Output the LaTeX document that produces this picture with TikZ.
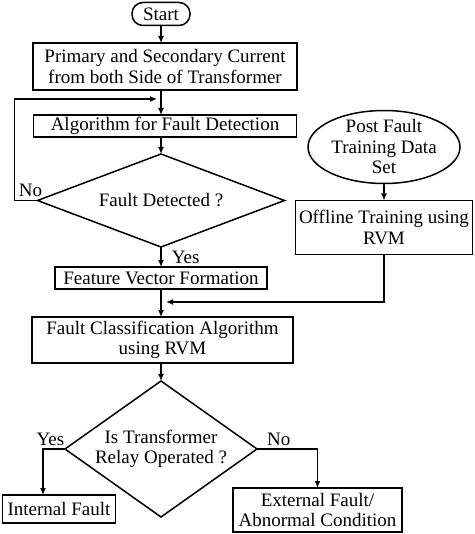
\documentclass[tikz,border=0pt]{standalone}
\usepackage{fontspec}
\setmainfont{Liberation Serif}
\usetikzlibrary{shapes.geometric, arrows.meta, positioning, calc}

\begin{document}
\begin{tikzpicture}[
    x=1pt, y=1pt,
    node distance=20pt,
    every node/.style={font=\fontsize{19}{20.5}\selectfont},
    block/.style={rectangle, draw, line width=1.5pt, align=center, inner sep=2pt, outer sep=0pt},
    terminal/.style={rectangle, draw, line width=1.5pt, rounded corners=11pt, minimum width=58pt, minimum height=23pt, inner sep=2pt, outer sep=0pt},
    decision/.style={diamond, draw, line width=1.5pt, align=center, inner sep=1pt, outer sep=0pt},
    dataset/.style={ellipse, draw, line width=1.5pt, align=center, inner xsep=0pt, inner ysep=-2pt, outer sep=0pt},
    lbl/.style={inner sep=3pt},
    arrow/.style={-{Latex[length=7pt, width=6pt]}, line width=1.5pt}
]
\useasboundingbox[fill=white] (0,0) rectangle (474,-534);

\node[terminal] (start) at (161,-14) {Start};
\node[block, below=17.5pt of start, xshift=4pt, minimum width=264pt, minimum height=47pt] (acq) {Primary and Secondary Current\\from both Side of Transformer};
\node[block, below=25pt of acq, minimum width=263pt, minimum height=22pt] (detect) {Algorithm for Fault Detection};
\node[decision, aspect=2.66, below=17pt of detect, xshift=-4pt, minimum width=247pt, minimum height=93pt] (faultq) {Fault Detected ?};
\node[block, below=20pt of faultq, minimum width=212pt, minimum height=22pt] (feature) {Feature Vector Formation};
\node[block, below=28pt of feature, xshift=1.5pt, minimum width=261pt, minimum height=46pt] (classify) {Fault Classification Algorithm\\using RVM};
\node[decision, aspect=1.41, below=18pt of classify, xshift=-1.5pt, minimum width=192pt, minimum height=136pt] (relayq) {Is Transformer\\Relay Operated ?};
\node[block, below=46pt of relayq.west, xshift=-6pt, minimum width=113pt, minimum height=28pt] (internal) {Internal Fault};
\node[block, below=39pt of relayq.east, xshift=60.5pt, minimum width=169pt, minimum height=44pt] (external) {External Fault/\\Abnormal Condition};
\node[dataset, minimum width=152pt, minimum height=73pt] (postdata) at (384,-147) {Post Fault\\Training Data\\Set};
\node[block, below=17pt of postdata, minimum width=177pt, minimum height=54pt] (offline) {Offline Training using\\RVM};

\coordinate (loop) at ($(acq.south -| start)+(0,-9)$);
\coordinate (merge) at ($(feature.south)+(0,-13)$);

\draw[arrow] (start) -- (start |- acq.north);
\draw[arrow] (acq.south -| start) -- (detect.north -| start);
\draw[arrow] (detect.south -| start) -- (faultq);
\draw[arrow] (faultq) -- node[right, inner xsep=10pt]{Yes} (feature);
\draw[arrow, shorten >=4pt] (faultq.west) -- node[lbl, above, pos=.3]{No} ++(-23,0) |- (loop);
\draw[arrow] (feature) -- (classify.north -| feature);
\draw[arrow] (classify.south -| feature) -- (relayq);
\draw[arrow] (postdata) -- (offline);
\draw[arrow, shorten >=5pt] (offline.south) |- (merge);
\draw[arrow] (relayq.west) -| node[lbl, above, pos=.33]{Yes} ([xshift=-16pt]internal.north);
\draw[arrow] (relayq.east) -| node[lbl, above, pos=.18]{No} (external.north);
\end{tikzpicture}
\end{document}
